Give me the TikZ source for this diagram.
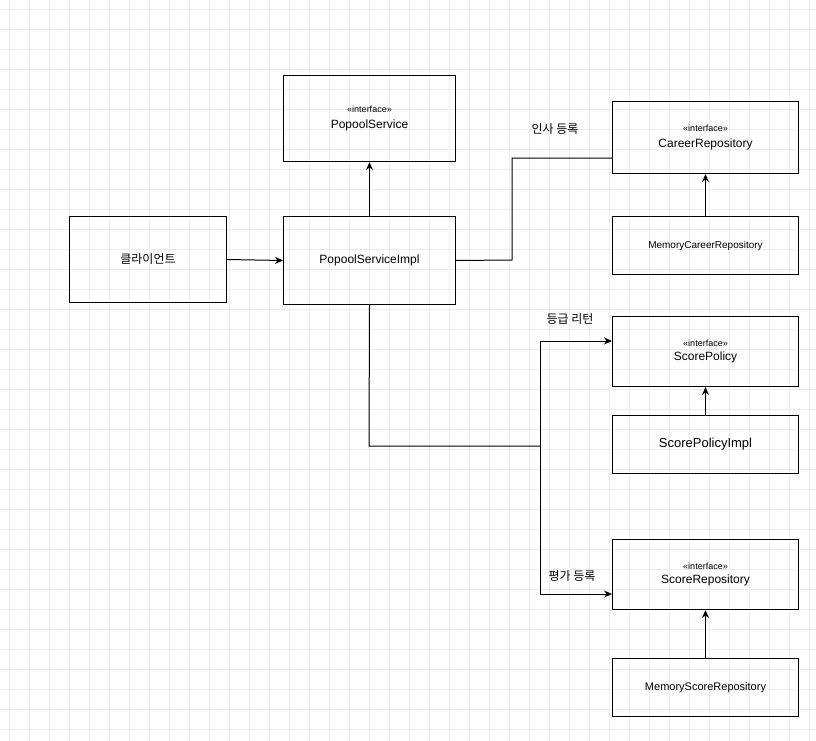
\documentclass[tikz,border=0pt]{standalone}
\usepackage{fontspec}
\setmainfont{Liberation Sans}
\newfontfamily\kr{Noto Sans CJK KR}
\usetikzlibrary{arrows.meta}
\begin{document}
\begin{tikzpicture}[x=1pt,y=-1pt,
  box/.style={draw,line width=1pt,anchor=north west,align=center,inner sep=0pt,font=\fontsize{12}{14}\selectfont},
  con/.style={line width=1pt,-{Stealth[length=8pt,width=7pt]}},
  ln/.style={line width=1pt},
  lbl/.style={font=\kr\fontsize{12}{14}\selectfont}]
\fill[white] (0,0) rectangle (816,741);
\useasboundingbox (0,0) rectangle (816,741);
\foreach \i in {0,20,...,820} {\draw[black!8,line width=0.5pt] (\i+9,0) -- (\i+9,741);}
\foreach \i in {0,20,...,740} {\draw[black!8,line width=0.5pt] (0,\i+9) -- (816,\i+9);}
\node[box,minimum width=157pt,minimum height=86pt] (cl) at (69,216) {\kr 클라이언트};
\node[box,minimum width=172pt,minimum height=86pt] (ps) at (283,75) {{\fontsize{9}{11}\selectfont<<interface>>}\\[2pt]PopoolService};
\node[box,minimum width=172pt,minimum height=88pt] (psi) at (283,216) {PopoolServiceImpl};
\node[box,minimum width=186pt,minimum height=72pt] (cr) at (612,101) {{\fontsize{9}{11}\selectfont<<interface>>}\\[2pt]CareerRepository};
\node[box,minimum width=186pt,minimum height=58pt,font=\fontsize{10}{12}\selectfont] (mcr) at (612,216) {MemoryCareerRepository};
\node[box,minimum width=186pt,minimum height=70pt] (sp) at (612,316) {{\fontsize{9}{11}\selectfont<<interface>>}\\ScorePolicy};
\node[box,minimum width=186pt,minimum height=58pt,font=\fontsize{13}{15}\selectfont] (spi) at (612,415) {ScorePolicyImpl};
\node[box,minimum width=186pt,minimum height=70pt] (sr) at (612,539) {{\fontsize{9}{11}\selectfont<<interface>>}\\ScoreRepository};
\node[box,minimum width=186pt,minimum height=58pt,font=\fontsize{11}{13}\selectfont] (msr) at (612,658) {MemoryScoreRepository};
\coordinate (j) at (540,446);
\draw[con] (cl.east) -- (psi.west);
\draw[con] (psi.north) -- (ps.south);
\draw[ln] (psi.east) -- (512,260) -- (512,158) -- (cr.west |- 0,158);
\draw[con] (mcr.north) -- (cr.south);
\draw[con] (spi.north) -- (sp.south);
\draw[con] (msr.north) -- (sr.south);
\draw[ln] (psi.south) -- (369,446) -- (j);
\draw[con] (j) -- (540,341) -- (sp.west |- 0,341);
\draw[con] (j) -- (540,594) -- (sr.west |- 0,594);
\node[lbl] at (555,129) {인사 등록};
\node[lbl] at (570,319) {등급 리턴};
\node[lbl] at (572,576) {평가 등록};
\end{tikzpicture}
\end{document}
